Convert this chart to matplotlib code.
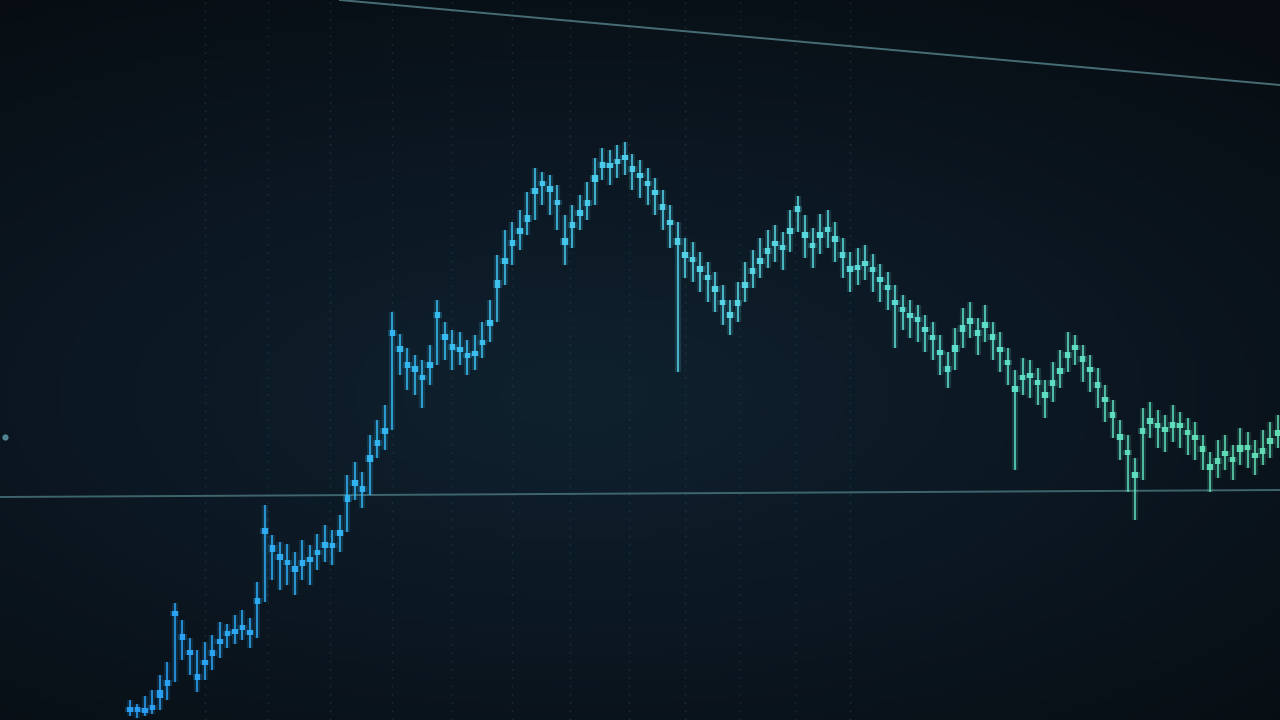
#!/usr/bin/env python3
"""Candlestick chart on a dark trading screen."""

import numpy as np
import matplotlib
matplotlib.use("Agg")
import matplotlib.pyplot as plt
from matplotlib.colors import LinearSegmentedColormap

# price series (one candle per entry)
close = [12, 8, 10, 14, 30, 40, 108, 80, 65, 40, 60, 70, 80, 88, 90, 95, 85, 122, 192, 168,
         160, 155, 148, 160, 158, 170, 178, 172, 190, 225, 240, 228, 265, 280, 292, 390, 368, 352, 348, 340,
         358, 408, 380, 370, 372, 362, 368, 380, 400, 440, 462, 480, 492, 505, 532, 538, 528, 515, 475, 498,
         510, 520, 545, 558, 552, 560, 565, 548, 542, 534, 525, 510, 495, 475, 462, 458, 448, 440, 428, 415,
         402, 420, 438, 452, 462, 472, 478, 470, 492, 514, 482, 472, 488, 492, 478, 462, 448, 454, 458, 448,
         438, 430, 415, 408, 402, 398, 388, 380, 365, 348, 375, 395, 402, 384, 398, 380, 368, 355, 328, 345,
         342, 335, 322, 340, 352, 368, 375, 358, 348, 332, 318, 302, 280, 265, 242, 292, 302, 292, 288, 298,
         292, 285, 280, 268, 250, 262, 268, 258, 275, 270, 262, 272, 282, 290]
open_ = [8, 12, 7, 10, 22, 34, 104, 86, 70, 46, 55, 64, 76, 84, 86, 90, 90, 116, 186, 175,
         166, 158, 154, 154, 162, 165, 172, 176, 184, 218, 234, 234, 258, 274, 286, 384, 374, 358, 354, 344,
         352, 402, 386, 376, 368, 366, 364, 375, 394, 432, 456, 474, 486, 498, 526, 534, 534, 520, 482, 492,
         504, 514, 538, 552, 556, 556, 560, 554, 546, 538, 530, 516, 500, 482, 468, 462, 454, 444, 434, 420,
         408, 414, 432, 446, 456, 466, 474, 474, 486, 508, 488, 476, 482, 488, 484, 468, 454, 450, 454, 452,
         442, 434, 420, 412, 406, 400, 392, 384, 370, 354, 368, 388, 396, 390, 392, 386, 372, 360, 334, 340,
         346, 338, 328, 334, 346, 362, 370, 364, 352, 338, 322, 308, 286, 270, 248, 286, 296, 296, 292, 292,
         296, 290, 284, 274, 256, 256, 264, 262, 268, 274, 266, 266, 276, 284]
high = [20, 16, 24, 30, 45, 58, 117, 100, 82, 70, 78, 85, 98, 96, 105, 110, 102, 138, 215, 185,
        178, 176, 168, 180, 175, 186, 195, 190, 205, 245, 258, 248, 285, 300, 315, 408, 386, 372, 365, 360,
        375, 420, 398, 390, 388, 380, 385, 398, 420, 465, 490, 498, 510, 528, 552, 548, 545, 535, 505, 515,
        525, 538, 562, 572, 570, 575, 578, 566, 560, 552, 542, 530, 515, 498, 482, 478, 468, 458, 448, 435,
        420, 438, 458, 470, 482, 490, 495, 488, 510, 524, 505, 492, 506, 510, 498, 482, 468, 472, 475, 466,
        456, 448, 435, 425, 420, 415, 405, 398, 385, 368, 392, 412, 418, 402, 415, 398, 388, 372, 350, 362,
        360, 352, 340, 358, 370, 388, 385, 375, 365, 352, 335, 320, 300, 285, 262, 312, 318, 310, 305, 315,
        308, 302, 298, 285, 268, 280, 285, 275, 292, 288, 280, 290, 298, 305]
low = [4, 2, 4, 6, 10, 20, 38, 60, 45, 28, 40, 50, 62, 72, 76, 80, 72, 82, 118, 140,
       130, 135, 125, 140, 135, 150, 158, 155, 168, 188, 220, 212, 225, 262, 270, 290, 345, 330, 325, 312,
       335, 355, 360, 350, 355, 345, 350, 362, 378, 398, 435, 455, 470, 485, 500, 515, 505, 490, 455, 472,
       490, 500, 515, 540, 535, 542, 545, 530, 522, 515, 505, 490, 472, 348, 442, 438, 428, 418, 408, 395,
       385, 398, 418, 432, 442, 452, 458, 450, 468, 488, 462, 452, 466, 472, 458, 442, 428, 435, 440, 428,
       418, 410, 372, 390, 382, 378, 368, 360, 345, 332, 350, 372, 382, 365, 378, 360, 348, 335, 250, 325,
       322, 315, 302, 318, 332, 348, 355, 338, 328, 312, 298, 282, 260, 228, 200, 240, 282, 272, 268, 278,
       272, 265, 260, 250, 228, 242, 250, 240, 255, 252, 245, 255, 262, 272]

# drawn lines on the chart (candle index, price)
trend_x = [28, 153.3]
trend_y = [720, 635]
level_x = [-17.3, 153.3]
level_y = [223, 230]
marker_x = [-16.6]
marker_y = [283]
grid_x = [10, 18.4, 26.7, 35, 43, 51, 58.7, 66.5, 74, 81.3, 88.7, 96]


def main():
    n = len(close)
    x = np.arange(n)

    fig = plt.figure(figsize=(12.8, 7.2), dpi=100)
    fig.patch.set_facecolor("#0a131b")
    ax = fig.add_axes([0, 0, 1, 1])
    ax.set_xlim(-17.33, 153.33)
    ax.set_ylim(0, 720)

    # dark screen background with soft vignette
    gx, gy = np.meshgrid(np.linspace(-1, 1, 256), np.linspace(-1, 1, 144))
    r = np.sqrt(((gx + 0.1) * 0.9) ** 2 + ((gy + 0.1) * 1.1) ** 2)
    bg_cmap = LinearSegmentedColormap.from_list("bg", ["#0f202d", "#0b1620", "#070d12"])
    ax.imshow(r, cmap=bg_cmap, extent=(-17.33, 153.33, 0, 720), aspect="auto",
              origin="lower", vmin=0.1, vmax=1.5, zorder=0)

    for s in ax.spines.values():
        s.set_visible(False)
    ax.set_xticks(grid_x)
    ax.set_yticks([])
    ax.tick_params(length=0, labelbottom=False, labelleft=False)
    ax.grid(axis="x", color="#2a4656", linestyle=(0, (1, 5)), linewidth=1.0, alpha=0.6)

    # trendline at the top and the horizontal level
    ax.plot(trend_x, trend_y, color="#5c8c95", linewidth=1.4, alpha=0.75, zorder=2)
    ax.plot(level_x, level_y, color="#4f7f86", linewidth=1.4, alpha=0.75, zorder=2)
    ax.plot(marker_x, marker_y, "o", color="#5c9aa6", markersize=3.5, alpha=0.8, zorder=2)

    cmap = LinearSegmentedColormap.from_list(
        "candles", ["#2aa0f8", "#36bdf5", "#58d8ec", "#5fe2cc", "#62e0b4"])
    colors = [cmap(i / (n - 1)) for i in x]

    # glow pass, then the wicks themselves
    ax.vlines(x, low, high, colors=colors, linewidth=4.5, alpha=0.16, zorder=3)
    ax.vlines(x, low, high, colors=colors, linewidth=1.3, alpha=0.85, zorder=4)

    body_lo = np.minimum(open_, close)
    body_h = np.maximum(np.abs(np.array(close) - np.array(open_)), 5)
    ax.bar(x, body_h, bottom=body_lo, width=1.2, color=colors, alpha=0.25, zorder=4)
    ax.bar(x, body_h, bottom=body_lo, width=0.7, color=colors, alpha=0.95, zorder=5)

    fig.savefig("out.png", dpi=100, facecolor=fig.get_facecolor())


if __name__ == "__main__":
    main()
